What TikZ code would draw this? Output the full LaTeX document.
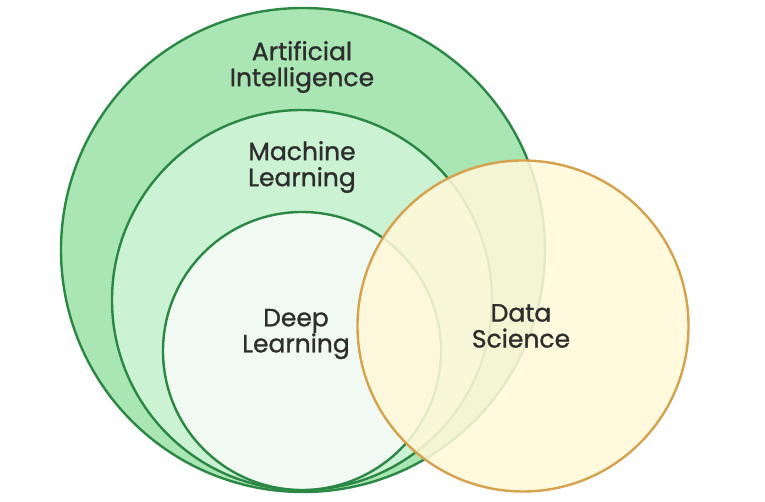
\documentclass[tikz,border=0pt]{standalone}
\usepackage{fontspec}
\setmainfont{Poppins}
\newfontfamily\vdFont{Poppins}[FakeBold=1.1]
\usepackage{tikz}
\usetikzlibrary{positioning, shapes}
\definecolor{vdEdge}{HTML}{2A8744}
\definecolor{vdAI}{HTML}{A9E6B3}
\definecolor{vdML}{HTML}{CBF2D2}
\definecolor{vdDL}{HTML}{F1FAF2}
\definecolor{vdDS}{HTML}{FFF8D8}
\definecolor{vdDSEdge}{HTML}{D6A24E}
\definecolor{vdText}{HTML}{2E2E2E}
\tikzset{
    vdSetBase/.style={
        circle,
        draw=vdEdge,
        line width=2.4pt,
        inner sep=0pt
    },
    % Field variants
    aiSet/.style={vdSetBase, fill=vdAI, minimum size=484pt},
    mlSet/.style={vdSetBase, fill=vdML, minimum size=380pt},
    dlSet/.style={vdSetBase, fill=vdDL, minimum size=278pt},
    dsSet/.style={vdSetBase, draw=vdDSEdge, fill=vdDS, fill opacity=0.88, draw opacity=1, minimum size=331pt},
    % Labels
    vdLabel/.style={
        font=\vdFont\fontsize{25}{26}\selectfont,
        text=vdText,
        align=center,
        inner sep=0pt
    }
}
\begin{document}
\begin{tikzpicture}[x=1pt, y=1pt]
    \useasboundingbox (0, 0) rectangle (765, 502);

    % Sets
    \node[aiSet] (ai) at (303, 252) {};
    \node[mlSet] (ml) at (302, 202) {};
    \node[dlSet] (dl) at (302, 151) {};
    \node[dsSet] (ds) at (523, 176) {};

    % Captions
    \node[vdLabel] (aiText) at (302, 435) {Artificial\\Intelligence};
    \node[vdLabel] (mlText) at (302, 335) {Machine\\Learning};
    \node[vdLabel] (dlText) at (296, 168) {Deep\\Learning};
    \node[vdLabel] (dsText) at (521, 176) {Data\\Science};
\end{tikzpicture}
\end{document}
